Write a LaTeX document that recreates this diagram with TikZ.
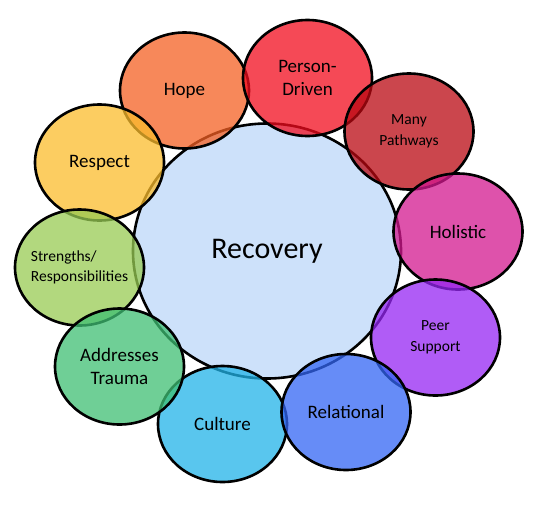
\documentclass[tikz,border=0pt]{standalone}
\usepackage{fontspec}
\setmainfont{Carlito}
\usetikzlibrary{shapes.geometric}
\definecolor{coreFill}{RGB}{205,225,250}
\definecolor{hopeFill}{RGB}{244,96,35}
\definecolor{personFill}{RGB}{242,12,30}
\definecolor{manyFill}{RGB}{185,8,17}
\definecolor{holisticFill}{RGB}{211,24,143}
\definecolor{peerFill}{RGB}{150,38,243}
\definecolor{relationalFill}{RGB}{51,102,244}
\definecolor{cultureFill}{RGB}{33,179,232}
\definecolor{traumaFill}{RGB}{63,191,115}
\definecolor{strengthsFill}{RGB}{152,203,83}
\definecolor{respectFill}{RGB}{251,188,44}
\tikzset{%
  % Specifications for style of nodes:
       base/.style = {ellipse, draw=black, line width=2.6pt, inner sep=-6pt,
                      minimum width=129pt, minimum height=116pt,
                      fill opacity=0.75, text opacity=1, align=center},
       core/.style = {base, minimum width=268pt, minimum height=255pt,
                      fill opacity=1, fill=coreFill,
                      font=\fontsize{30}{36}\selectfont},
    bigText/.style = {base, font=\fontsize{19}{23.5}\selectfont},
  smallText/.style = {base, font=\fontsize{15.5}{20.5}\selectfont},
}
\begin{document}
\begin{tikzpicture}[x=1pt, y=-1pt]
\useasboundingbox (0,0) rectangle (537,517);

\node (Recovery)   [core]                            at (267,251)   {Recovery};

\node (Culture)    [bigText, fill=cultureFill]       at (222.5,424) {Culture};
\node (Hope)       [bigText, fill=hopeFill]          at (184.5,90.5) {Hope};
\node (Person)     [bigText, fill=personFill]        at (307.5,78)  {Person-\\Driven};
\node (Many)       [smallText, fill=manyFill]        at (409,131.5) {Many\\Pathways};
\node (Holistic)   [bigText, fill=holisticFill]      at (458,231.5) {Holistic};
\node (Peer)       [smallText, fill=peerFill]        at (435.5,337.5) {Peer\\Support};
\node (Relational) [bigText, fill=relationalFill]    at (346,412)   {Relational};
\node (Respect)    [bigText, fill=respectFill]       at (99.5,162.5) {Respect};
\node (Strengths)  [smallText, fill=strengthsFill, align=left] at (79.5,267.5) {Strengths/\\Responsibilities};
\node (Trauma)     [bigText, fill=traumaFill]        at (119.5,366.5) {Addresses\\Trauma};
\end{tikzpicture}
\end{document}
